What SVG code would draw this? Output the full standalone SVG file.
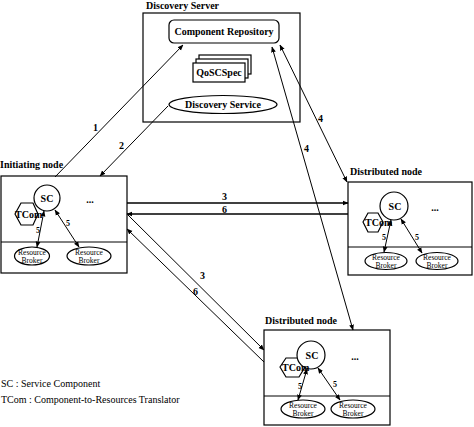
<svg xmlns="http://www.w3.org/2000/svg" width="474" height="427" viewBox="0 0 474 427">
<style>
text{font-family:"Liberation Serif","Times New Roman",serif;font-size:10px;fill:#000}
.b{font-weight:bold}
.rb{font-size:7.5px;text-anchor:middle}
.box{fill:none;stroke:#000;stroke-width:1.2}
.shp{fill:#fff;stroke:#000;stroke-width:1.2}
.ln{fill:none;stroke:#000;stroke-width:1}
.m{text-anchor:middle}
.n5{font-size:8px;font-weight:bold}
</style>
<defs>
<marker id="ah" viewBox="0 0 10 10" refX="9" refY="5" markerWidth="6" markerHeight="6" orient="auto-start-reverse" markerUnits="userSpaceOnUse">
<path d="M0,1 L10,5 L0,9 z" fill="#000"/>
</marker>
</defs>
<rect width="474" height="427" fill="#fff"/>

<g id="discovery-server">
<rect class="box" x="143" y="13" width="157" height="109"/>
<text x="146" y="9" class="b">Discovery Server</text>
<g id="component-repository">
<rect class="shp" x="169" y="20" width="110" height="23" rx="5"/>
<text x="224" y="35" class="b m">Component Repository</text>
</g>
<g id="qoscspec">
<rect class="shp" x="199" y="55" width="52" height="19"/>
<rect class="shp" x="196" y="59" width="52" height="19"/>
<rect class="shp" x="193" y="63" width="52" height="19"/>
<text x="219" y="76" class="b m">QoSCSpec</text>
</g>
<g id="discovery-service">
<ellipse class="shp" cx="223" cy="104.5" rx="54" ry="9"/>
<text x="223" y="108" class="b m">Discovery Service</text>
</g>
</g>

<g id="initiating-node">
<rect class="box" x="1" y="176" width="126" height="97"/>
<line class="ln" x1="1" y1="242" x2="127" y2="242"/>
<text x="0" y="168" class="b">Initiating node</text>
<polygon class="shp" points="15,214 21,203 33,203 38,214 33,225 21,225"/>
<circle class="shp" cx="47" cy="198" r="13"/>
<text x="47" y="202" class="b m">SC</text>
<text x="15" y="218" class="b">TCom</text>
<text x="90" y="203" class="b m">...</text>
<ellipse class="shp" cx="32" cy="256" rx="17.5" ry="9"/>
<text x="32" y="254.5" class="rb">Resource</text>
<text x="32" y="262.5" class="rb">Broker</text>
<ellipse class="shp" cx="89" cy="256" rx="22" ry="9"/>
<text x="89" y="254.5" class="rb">Resource</text>
<text x="89" y="262.5" class="rb">Broker</text>
<line class="ln" x1="44" y1="211" x2="37" y2="247" marker-start="url(#ah)" marker-end="url(#ah)"/>
<line class="ln" x1="55" y1="210" x2="79" y2="247" marker-start="url(#ah)" marker-end="url(#ah)"/>
<text x="36" y="233" class="n5">5</text>
<text x="66" y="226" class="n5">5</text>
</g>

<g id="distributed-node-1">
<rect class="box" x="348" y="182" width="124" height="93"/>
<line class="ln" x1="348" y1="247" x2="472" y2="247"/>
<text x="350" y="175" class="b">Distributed node</text>
<polygon class="shp" points="363,222 368,213 378,213 383,222 378,232 368,232"/>
<circle class="shp" cx="394" cy="206" r="14"/>
<text x="395" y="210" class="b m">SC</text>
<text x="365" y="226" class="b">TCom</text>
<text x="435" y="211" class="b m">...</text>
<ellipse class="shp" cx="386" cy="261" rx="21" ry="8.5"/>
<text x="386" y="259.5" class="rb">Resource</text>
<text x="386" y="267.5" class="rb">Broker</text>
<ellipse class="shp" cx="437" cy="261" rx="21" ry="8.5"/>
<text x="437" y="259.5" class="rb">Resource</text>
<text x="437" y="267.5" class="rb">Broker</text>
<line class="ln" x1="391" y1="220" x2="384" y2="252" marker-start="url(#ah)" marker-end="url(#ah)"/>
<line class="ln" x1="401" y1="219" x2="422" y2="253" marker-start="url(#ah)" marker-end="url(#ah)"/>
<text x="382" y="240" class="n5">5</text>
<text x="415" y="240" class="n5">5</text>
</g>

<g id="distributed-node-2">
<rect class="box" x="264" y="330" width="126" height="95"/>
<line class="ln" x1="264" y1="396" x2="390" y2="396"/>
<text x="265" y="324" class="b">Distributed node</text>
<polygon class="shp" points="280,367 286,358 299,358 305,367 299,377 286,377"/>
<circle class="shp" cx="311" cy="355" r="14"/>
<text x="312" y="359" class="b m">SC</text>
<text x="282" y="371" class="b">TCom</text>
<text x="355" y="360" class="b m">...</text>
<ellipse class="shp" cx="303" cy="409" rx="22" ry="9"/>
<text x="303" y="407.5" class="rb">Resource</text>
<text x="303" y="415.5" class="rb">Broker</text>
<ellipse class="shp" cx="353" cy="409" rx="22" ry="9"/>
<text x="353" y="407.5" class="rb">Resource</text>
<text x="353" y="415.5" class="rb">Broker</text>
<line class="ln" x1="307" y1="369" x2="298" y2="400" marker-start="url(#ah)" marker-end="url(#ah)"/>
<line class="ln" x1="318" y1="368" x2="340" y2="400" marker-start="url(#ah)" marker-end="url(#ah)"/>
<text x="298" y="389" class="n5">5</text>
<text x="333" y="387" class="n5">5</text>
</g>

<g id="connectors">
<line class="ln" x1="55" y1="177" x2="183" y2="45" marker-end="url(#ah)"/>
<line class="ln" x1="168" y1="106" x2="100" y2="176" marker-end="url(#ah)"/>
<line class="ln" x1="127" y1="203" x2="348" y2="203" marker-end="url(#ah)" style="stroke-width:1.3"/>
<line class="ln" x1="348" y1="214" x2="127" y2="214" marker-end="url(#ah)" style="stroke-width:1.3"/>
<line class="ln" x1="128" y1="215" x2="264" y2="350" marker-end="url(#ah)"/>
<line class="ln" x1="264" y1="362" x2="127" y2="229" marker-end="url(#ah)"/>
<line class="ln" x1="280" y1="45" x2="347" y2="182" marker-start="url(#ah)" marker-end="url(#ah)"/>
<line class="ln" x1="272" y1="47" x2="353" y2="330" marker-start="url(#ah)" marker-end="url(#ah)"/>
<text x="93" y="131" class="b">1</text>
<text x="119" y="149" class="b">2</text>
<text x="222" y="200" class="b">3</text>
<text x="222" y="213" class="b">6</text>
<text x="200" y="279" class="b">3</text>
<text x="193" y="295" class="b">6</text>
<text x="318" y="122" class="b">4</text>
<text x="304" y="152" class="b">4</text>
</g>

<g id="legend">
<text x="1" y="387">SC : Service Component</text>
<text x="1" y="403">TCom : Component-to-Resources Translator</text>
</g>
</svg>
